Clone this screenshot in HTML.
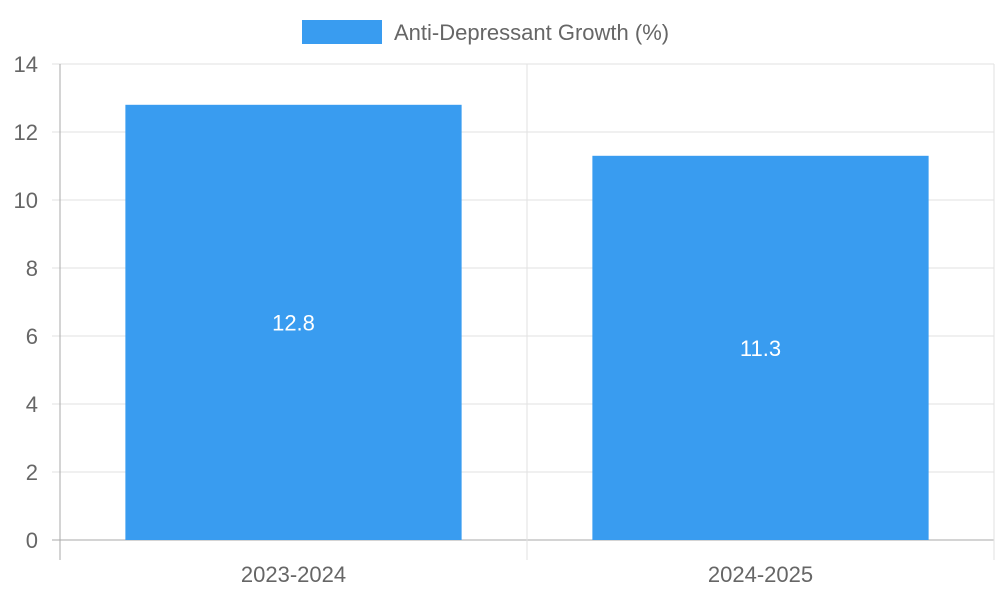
<!DOCTYPE html>
<html><head><meta charset="utf-8"><style>
body{margin:0;background:#fff;}
svg{display:block;font-family:"Liberation Sans",Arial,sans-serif;}
</style></head><body>
<svg id="chart" width="1000" height="600">
<g id="legend">
<rect x="302" y="20" width="80" height="24" fill="#399cf0"/>
<text x="394" y="40" font-size="22" fill="#666">Anti-Depressant Growth (%)</text>
</g>
<g id="grid"></g><g id="bars"></g><g id="axes"></g>
</svg>
<script>
const categories = ["2023-2024", "2024-2025"];
const values = [12.8, 11.3];
const yTicks = [0, 2, 4, 6, 8, 10, 12, 14];
const NS = "http://www.w3.org/2000/svg";
const L = 60, R = 994, T = 64, B = 540, yMax = 14;
const y = v => B - (v / yMax) * (B - T);
const bandW = (R - L) / categories.length;
const x = i => L + i * bandW;
function mk(tag, attrs, parent, text) {
  const e = document.createElementNS(NS, tag);
  for (const k in attrs) e.setAttribute(k, attrs[k]);
  if (text !== undefined) e.textContent = text;
  parent.appendChild(e); return e;
}
const grid = document.getElementById('grid'), bars = document.getElementById('bars'), axes = document.getElementById('axes');
yTicks.forEach(t => {
  const ln = mk('line', {x1: L - 8, x2: R, y1: y(t), y2: y(t), stroke: t === 0 ? '#aaa' : '#e2e2e2', 'stroke-width': 1}, grid);
  
  
  const tx = mk('text', {x: L - 22, y: y(t) + 8, 'font-size': 22, fill: '#666', 'text-anchor': 'end'}, axes, String(t));
  
  
});
for (let i = 0; i <= categories.length; i++) {
  const ln = mk('line', {x1: x(i), x2: x(i), y1: T, y2: B + 20, stroke: i === 0 ? '#aaa' : '#e2e2e2', 'stroke-width': 1}, grid);
  
  
}
categories.forEach((c, i) => {
  const bw = bandW * 0.72, bx = x(i) + (bandW - bw) / 2;
  const r = mk('rect', {x: bx, y: y(values[i]), width: bw, height: B - y(values[i]), fill: '#399cf0'}, bars);
  
  
  const vl = mk('text', {x: bx + bw / 2, y: (y(values[i]) + B) / 2 + 8, 'font-size': 22, fill: '#fff', 'text-anchor': 'middle'}, bars, String(values[i]));
  
  
  const xl = mk('text', {x: x(i) + bandW / 2, y: 582, 'font-size': 22, fill: '#666', 'text-anchor': 'middle'}, axes, c);
  
  
});
</script>
</body></html>
